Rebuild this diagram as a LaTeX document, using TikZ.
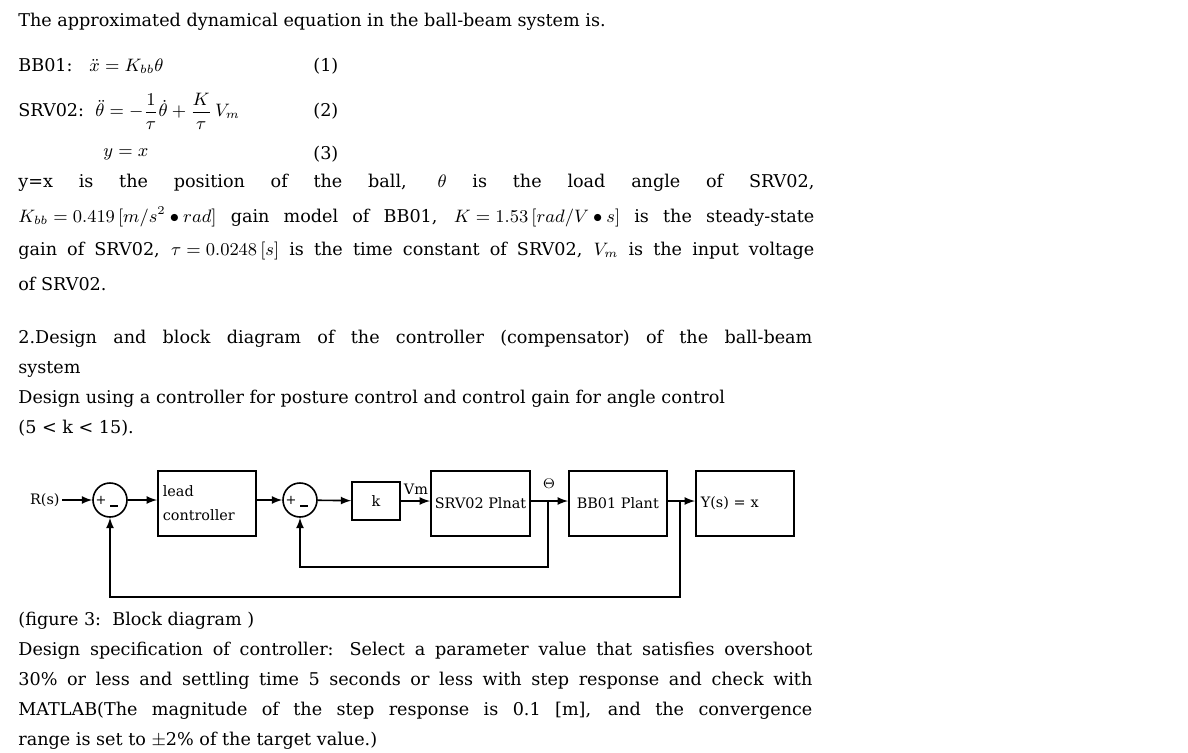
\documentclass[tikz,border=0pt]{standalone}
\usepackage{amsmath}
\usepackage{fontspec}
\setmainfont{DejaVu Serif}
\begin{document}
\begin{tikzpicture}[x=0.5pt,y=-0.5pt,
  txt/.style={anchor=west,inner sep=0pt,font=\fontsize{8.8}{10}\selectfont},
  blk/.style={draw,thick,minimum width=49pt,minimum height=32.5pt,inner sep=2pt,font=\fontsize{7.2}{9}\selectfont},
  sumc/.style={draw,circle,thick,minimum size=17pt,inner sep=0pt},
  lbl/.style={font=\fontsize{7.2}{9}\selectfont,inner sep=1pt},
  arr/.style={-latex,thick}]
\useasboundingbox (0,0) rectangle (1188,752);
\fill[white] (0,0) rectangle (1188,752);
\node[txt] (t1) at (18,22) {The approximated dynamical equation in the ball-beam system is.};
\node[txt] (e1) at (18,66) {BB01:\ \ \ $\ddot x = K_{bb}\theta$};
\node[txt] (n1) at (313,66) {(1)};
\node[txt] (e2) at (18,111) {SRV02:\ \ $\ddot\theta = -\dfrac{1}{\tau}\dot\theta + \dfrac{K}{\tau}\,V_m$};
\node[txt] (n2) at (313,111) {(2)};
\node[txt] (e3) at (103,154) {$y = x$};
\node[txt] (n3) at (313,154) {(3)};
\node[txt] (l1) at (18,183) {\makebox[398pt][s]{y=x is the position of the ball, \mbox{$\theta$} is the load angle of SRV02,}};
\node[txt] (l2) at (18,217) {\makebox[398pt][s]{\mbox{$K_{bb}=0.419\,[m/s^2\bullet rad]$} gain model of BB01, \mbox{$K=1.53\,[rad/V\bullet s]$} is the steady-state}};
\node[txt] (l3) at (18,251) {\makebox[398pt][s]{gain of SRV02, \mbox{$\tau=0.0248\,[s]$} is the time constant of SRV02, \mbox{$V_m$} is the input voltage}};
\node[txt] (l4) at (18,284) {of SRV02.};
\node[txt] (l5) at (18,339) {\makebox[397pt][s]{2.Design and block diagram of the controller (compensator) of the ball-beam}};
\node[txt] (l6) at (18,369) {system};
\node[txt] (l7) at (18,399) {Design using a controller for posture control and control gain for angle control};
\node[txt] (l8) at (18,428) {(5 < k < 15).};
% diagram
\node[lbl,anchor=east] (R) at (62,500) {R(s)};
\node[sumc] (s1) at (110,500) {};
\node[blk,anchor=north west,align=left,text width=44pt] (lead) at (157,470) {lead\\[3pt]controller};
\node[sumc] (s2) at (300,500) {};
\node[blk,minimum width=24pt,minimum height=19pt] (k) at (376,501) {k};
\node[blk,anchor=north west] (srv) at (430,470) {SRV02 Plnat};
\node[blk,anchor=north west] (bb) at (568,470) {BB01 Plant};
\node[blk,anchor=north west,align=left,text width=44pt] (ys) at (695,470) {Y(s) = x};
\node[lbl] (vm) at (416,489) {Vm};
\node[lbl] (th) at (549,484) {$\Theta$};
\node[lbl,font=\fontsize{6.5}{8}\selectfont] at ([xshift=-4.5pt]s1.center) {+};
\node[lbl,font=\fontsize{6.5}{8}\selectfont] at ([xshift=-4.5pt]s2.center) {+};
\draw[thick] ([xshift=0pt,yshift=-3pt]s1.center) -- ++(4pt,0);
\draw[thick] ([xshift=0pt,yshift=-3pt]s2.center) -- ++(4pt,0);
\coordinate (p1) at (548,500);
\coordinate (p2) at (680,500);
\draw[arr] (R) -- (s1);
\draw[arr] (s1) -- (lead.west |- s1);
\draw[arr] (lead.east |- s2) -- (s2);
\draw[arr] (s2) -- (k);
\draw[arr] (k) -- (srv.west |- k);
\draw[arr] (srv.east |- k) -- (bb.west |- k);
\draw[arr] (bb.east |- k) -- (ys.west |- k);
\draw[arr] (p1) -- (548,567) -- (300,567) -- (s2.south);
\draw[arr] (p2) -- (680,597) -- (110,597) -- (s1.south);
\node[txt] (l9) at (18,621) {(figure 3:\ \ Block diagram )};
\node[txt] (l10) at (18,651) {\makebox[397pt][s]{Design specification of controller: Select a parameter value that satisfies overshoot}};
\node[txt] (l11) at (18,681) {\makebox[397pt][s]{30\% or less and settling time 5 seconds or less with step response and check with}};
\node[txt] (l12) at (18,711) {\makebox[397pt][s]{MATLAB(The magnitude of the step response is 0.1 [m], and the convergence}};
\node[txt] (l13) at (18,741) {range is set to $\pm$2\% of the target value.)};
\end{tikzpicture}
\end{document}
